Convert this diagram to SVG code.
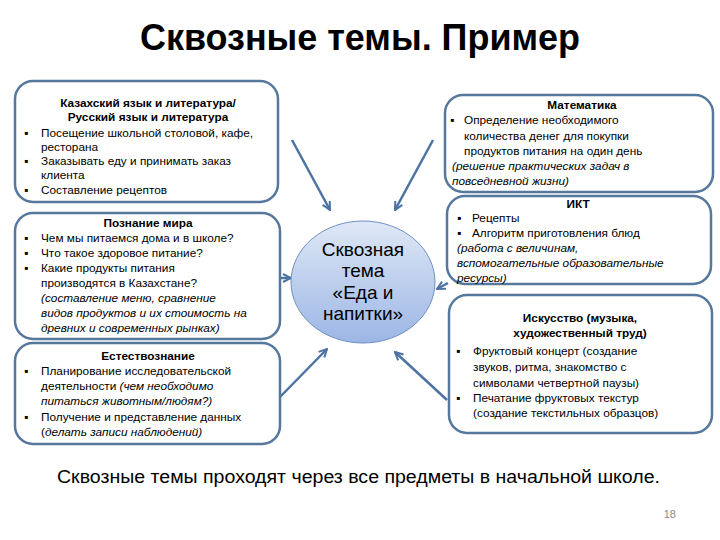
<svg xmlns="http://www.w3.org/2000/svg" width="720" height="540" viewBox="0 0 720 540">
<defs>
<linearGradient id="gEll" x1="0" y1="0" x2="0" y2="1">
<stop offset="0" stop-color="#dfe8f6"/>
<stop offset="1" stop-color="#9cb6e5"/>
</linearGradient>
<marker id="arr" viewBox="0 0 10 10" refX="9" refY="5" markerWidth="10" markerHeight="10" markerUnits="userSpaceOnUse" orient="auto">
<path d="M1,1 L9,5 L1,9" fill="none" stroke="#4d73a3" stroke-width="2"/>
</marker>
<style>
text{font-family:"Liberation Sans",Arial,"DejaVu Sans",sans-serif;fill:#000;}
.box{fill:#fff;stroke:#56789d;stroke-width:2.5;}
.t{font-size:11.8px;}
.h{font-size:11.8px;font-weight:bold;text-anchor:middle;}
.it{font-style:italic;}
.conn{stroke:#4d73a3;stroke-width:2.5;fill:none;marker-end:url(#arr);}
.c{font-size:19px;text-anchor:middle;}
</style>
</defs>
<rect width="720" height="540" fill="#fff"/>
<text x="360" y="50" font-size="37" font-weight="bold" text-anchor="middle" textLength="440" lengthAdjust="spacingAndGlyphs">Сквозные темы. Пример</text>

<g id="connectors">
<line class="conn" x1="292" y1="140" x2="330" y2="210"/>
<line class="conn" x1="433" y1="140" x2="395" y2="210"/>
<line class="conn" x1="276" y1="278" x2="291" y2="278"/>
<line class="conn" x1="448" y1="283" x2="437" y2="289"/>
<line class="conn" x1="280" y1="397" x2="327" y2="349"/>
<line class="conn" x1="447" y1="400" x2="395" y2="352"/>
</g>

<g id="kazakh">
<rect class="box" x="15" y="81" width="263" height="121" rx="18"/>
<text class="h" x="148" y="107">Казахский язык и литература/</text>
<text class="h" x="148" y="121">Русский язык и литература</text>
<text class="t" x="24" y="137">▪</text><text class="t" x="41" y="137">Посещение школьной столовой, кафе,</text>
<text class="t" x="41" y="151">ресторана</text>
<text class="t" x="24" y="165">▪</text><text class="t" x="41" y="165">Заказывать еду и принимать заказ</text>
<text class="t" x="41" y="179">клиента</text>
<text class="t" x="24" y="194">▪</text><text class="t" x="41" y="194">Составление рецептов</text>
</g>

<g id="poznanie">
<rect class="box" x="15" y="213" width="265" height="126" rx="18"/>
<text class="h" x="148" y="227">Познание мира</text>
<text class="t" x="24" y="242">▪</text><text class="t" x="41" y="242">Чем мы питаемся дома и в школе?</text>
<text class="t" x="24" y="257">▪</text><text class="t" x="41" y="257">Что такое здоровое питание?</text>
<text class="t" x="24" y="272">▪</text><text class="t" x="41" y="272">Какие продукты питания</text>
<text class="t" x="41" y="287">производятся в Казахстане?</text>
<text class="t it" x="41" y="302">(составление меню, сравнение</text>
<text class="t it" x="41" y="317">видов продуктов и их стоимость на</text>
<text class="t it" x="41" y="332">древних и современных рынках)</text>
</g>

<g id="estestvo">
<rect class="box" x="15" y="343" width="265" height="101" rx="18"/>
<text class="h" x="148" y="360">Естествознание</text>
<text class="t" x="24" y="375">▪</text><text class="t" x="41" y="375">Планирование исследовательской</text>
<text class="t" x="41" y="390">деятельности <tspan class="it">(чем необходимо</tspan></text>
<text class="t it" x="41" y="405">питаться животным/людям?)</text>
<text class="t" x="24" y="421">▪</text><text class="t" x="41" y="421">Получение и представление данных</text>
<text class="t" x="41" y="436">(<tspan class="it">делать записи наблюдений)</tspan></text>
</g>

<g id="center">
<ellipse cx="363" cy="282" rx="72" ry="61" fill="url(#gEll)" stroke="#7090c4" stroke-width="1"/>
<text class="c" x="363" y="256">Сквозная</text>
<text class="c" x="363" y="277">тема</text>
<text class="c" x="363" y="299">«Еда и</text>
<text class="c" x="363" y="320">напитки»</text>
</g>

<g id="math">
<rect class="box" x="445" y="95" width="268" height="97" rx="18"/>
<text class="h" x="582" y="109">Математика</text>
<text class="t" x="450" y="124">▪</text><text class="t" x="464" y="124">Определение необходимого</text>
<text class="t" x="464" y="140">количества денег для покупки</text>
<text class="t" x="464" y="155">продуктов питания на один день</text>
<text class="t it" x="452" y="170">(решение практических задач в</text>
<text class="t it" x="452" y="185">повседневной жизни)</text>
</g>

<g id="ikt">
<rect class="box" x="447" y="196" width="264" height="88" rx="18"/>
<text class="h" x="578" y="208">ИКТ</text>
<text class="t" x="457" y="222">▪</text><text class="t" x="472" y="222">Рецепты</text>
<text class="t" x="457" y="237">▪</text><text class="t" x="472" y="237">Алгоритм приготовления блюд</text>
<text class="t it" x="457" y="252">(работа с величинам,</text>
<text class="t it" x="457" y="267">вспомогательные образовательные</text>
<text class="t it" x="457" y="282">ресурсы)</text>
</g>

<g id="art">
<rect class="box" x="449" y="295" width="263" height="138" rx="18"/>
<text class="h" x="580" y="322">Искусство (музыка,</text>
<text class="h" x="580" y="337">художественный труд)</text>
<text class="t" x="456" y="355">▪</text><text class="t" x="473" y="355">Фруктовый концерт (создание</text>
<text class="t" x="473" y="371">звуков, ритма, знакомство с</text>
<text class="t" x="473" y="387">символами четвертной паузы)</text>
<text class="t" x="456" y="402">▪</text><text class="t" x="473" y="402">Печатание фруктовых текстур</text>
<text class="t" x="473" y="417">(создание текстильных образцов)</text>
</g>

<text x="57" y="483" font-size="17.5" textLength="603" lengthAdjust="spacingAndGlyphs">Сквозные темы проходят через все предметы в начальной школе.</text>
<text x="676" y="518" font-size="11" style="fill:#8c8c8c" text-anchor="end">18</text>
</svg>
